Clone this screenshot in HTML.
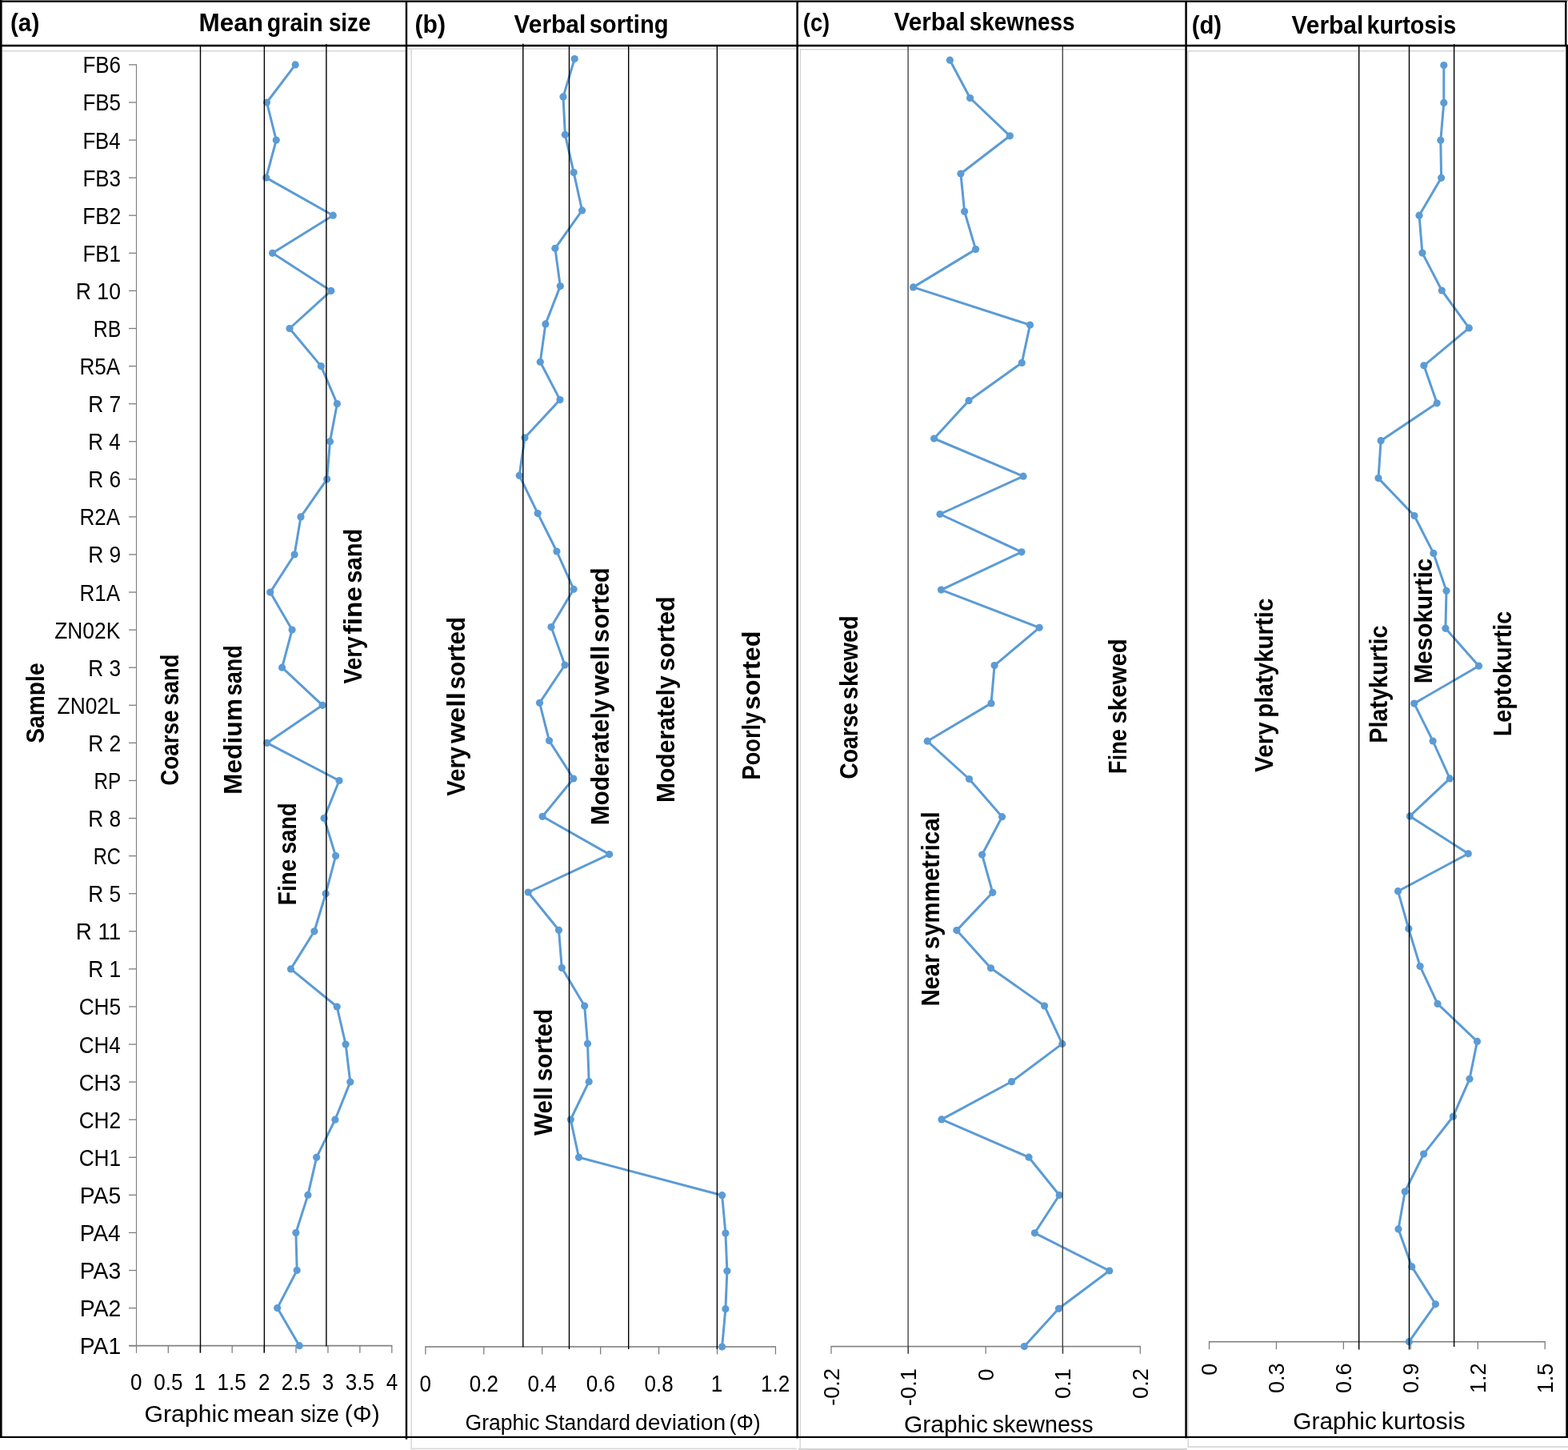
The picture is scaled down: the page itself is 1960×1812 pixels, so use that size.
<!DOCTYPE html>
<html lang="en">
<head>
<meta charset="utf-8">
<title>Grain size parameters</title>
<style>
html,body{margin:0;padding:0;background:#fff;}
body{width:1960px;height:1812px;overflow:hidden;}
svg{display:block;}
</style>
</head>
<body>
<svg width="1960" height="1812" viewBox="0 0 1960 1812">
<rect width="1960" height="1812" fill="#fff"/>
<g id="chart-frames">
<rect x="3.00" y="62.85" width="503.50" height="1.70" fill="#d9d9d9"/>
<rect x="513.40" y="60.50" width="1.60" height="1750.50" fill="#d9d9d9"/>
<rect x="509.50" y="60.25" width="485.70" height="1.50" fill="#d9d9d9"/>
<rect x="513.40" y="1809.55" width="482.60" height="1.70" fill="#d9d9d9"/>
<rect x="999.50" y="61.00" width="1.60" height="1750.00" fill="#d9d9d9"/>
<rect x="999.50" y="61.05" width="481.50" height="1.50" fill="#d9d9d9"/>
<rect x="998.00" y="1809.80" width="485.80" height="2.20" fill="#d4d4d4"/>
<rect x="1484.40" y="63.00" width="1.60" height="1745.50" fill="#d9d9d9"/>
<rect x="1484.50" y="62.85" width="471.50" height="1.70" fill="#d9d9d9"/>
<rect x="1484.40" y="1807.20" width="475.60" height="1.80" fill="#d9d9d9"/>
</g>
<g id="axes">
<rect x="169.95" y="80.20" width="1.05" height="1610.60" fill="#7a7a7a"/>
<rect x="161.00" y="80.25" width="9.40" height="1.30" fill="#7f7f7f"/>
<rect x="161.00" y="127.33" width="9.40" height="1.30" fill="#7f7f7f"/>
<rect x="161.00" y="174.41" width="9.40" height="1.30" fill="#7f7f7f"/>
<rect x="161.00" y="221.50" width="9.40" height="1.30" fill="#7f7f7f"/>
<rect x="161.00" y="268.58" width="9.40" height="1.30" fill="#7f7f7f"/>
<rect x="161.00" y="315.66" width="9.40" height="1.30" fill="#7f7f7f"/>
<rect x="161.00" y="362.74" width="9.40" height="1.30" fill="#7f7f7f"/>
<rect x="161.00" y="409.83" width="9.40" height="1.30" fill="#7f7f7f"/>
<rect x="161.00" y="456.91" width="9.40" height="1.30" fill="#7f7f7f"/>
<rect x="161.00" y="503.99" width="9.40" height="1.30" fill="#7f7f7f"/>
<rect x="161.00" y="551.07" width="9.40" height="1.30" fill="#7f7f7f"/>
<rect x="161.00" y="598.16" width="9.40" height="1.30" fill="#7f7f7f"/>
<rect x="161.00" y="645.24" width="9.40" height="1.30" fill="#7f7f7f"/>
<rect x="161.00" y="692.32" width="9.40" height="1.30" fill="#7f7f7f"/>
<rect x="161.00" y="739.40" width="9.40" height="1.30" fill="#7f7f7f"/>
<rect x="161.00" y="786.49" width="9.40" height="1.30" fill="#7f7f7f"/>
<rect x="161.00" y="833.57" width="9.40" height="1.30" fill="#7f7f7f"/>
<rect x="161.00" y="880.65" width="9.40" height="1.30" fill="#7f7f7f"/>
<rect x="161.00" y="927.73" width="9.40" height="1.30" fill="#7f7f7f"/>
<rect x="161.00" y="974.81" width="9.40" height="1.30" fill="#7f7f7f"/>
<rect x="161.00" y="1021.90" width="9.40" height="1.30" fill="#7f7f7f"/>
<rect x="161.00" y="1068.98" width="9.40" height="1.30" fill="#7f7f7f"/>
<rect x="161.00" y="1116.06" width="9.40" height="1.30" fill="#7f7f7f"/>
<rect x="161.00" y="1163.14" width="9.40" height="1.30" fill="#7f7f7f"/>
<rect x="161.00" y="1210.23" width="9.40" height="1.30" fill="#7f7f7f"/>
<rect x="161.00" y="1257.31" width="9.40" height="1.30" fill="#7f7f7f"/>
<rect x="161.00" y="1304.39" width="9.40" height="1.30" fill="#7f7f7f"/>
<rect x="161.00" y="1351.47" width="9.40" height="1.30" fill="#7f7f7f"/>
<rect x="161.00" y="1398.56" width="9.40" height="1.30" fill="#7f7f7f"/>
<rect x="161.00" y="1445.64" width="9.40" height="1.30" fill="#7f7f7f"/>
<rect x="161.00" y="1492.72" width="9.40" height="1.30" fill="#7f7f7f"/>
<rect x="161.00" y="1539.80" width="9.40" height="1.30" fill="#7f7f7f"/>
<rect x="161.00" y="1586.89" width="9.40" height="1.30" fill="#7f7f7f"/>
<rect x="161.00" y="1633.97" width="9.40" height="1.30" fill="#7f7f7f"/>
<rect x="161.00" y="1681.05" width="9.40" height="1.30" fill="#7f7f7f"/>
<rect x="161.00" y="1680.80" width="329.30" height="1.70" fill="#7f7f7f"/>
<rect x="209.67" y="1681.60" width="1.30" height="9.20" fill="#7f7f7f"/>
<rect x="249.60" y="1681.60" width="1.30" height="9.20" fill="#7f7f7f"/>
<rect x="289.53" y="1681.60" width="1.30" height="9.20" fill="#7f7f7f"/>
<rect x="329.45" y="1681.60" width="1.30" height="9.20" fill="#7f7f7f"/>
<rect x="369.38" y="1681.60" width="1.30" height="9.20" fill="#7f7f7f"/>
<rect x="409.30" y="1681.60" width="1.30" height="9.20" fill="#7f7f7f"/>
<rect x="449.23" y="1681.60" width="1.30" height="9.20" fill="#7f7f7f"/>
<rect x="489.15" y="1681.60" width="1.30" height="9.20" fill="#7f7f7f"/>
<rect x="531.30" y="1682.20" width="438.70" height="1.60" fill="#7f7f7f"/>
<rect x="531.25" y="1683.00" width="1.30" height="9.50" fill="#7f7f7f"/>
<rect x="604.17" y="1683.00" width="1.30" height="9.50" fill="#7f7f7f"/>
<rect x="677.09" y="1683.00" width="1.30" height="9.50" fill="#7f7f7f"/>
<rect x="750.01" y="1683.00" width="1.30" height="9.50" fill="#7f7f7f"/>
<rect x="822.93" y="1683.00" width="1.30" height="9.50" fill="#7f7f7f"/>
<rect x="895.85" y="1683.00" width="1.30" height="9.50" fill="#7f7f7f"/>
<rect x="968.77" y="1683.00" width="1.30" height="9.50" fill="#7f7f7f"/>
<rect x="1038.40" y="1681.80" width="387.50" height="1.60" fill="#7f7f7f"/>
<rect x="1038.35" y="1682.60" width="1.30" height="9.20" fill="#7f7f7f"/>
<rect x="1134.92" y="1682.60" width="1.30" height="9.20" fill="#7f7f7f"/>
<rect x="1231.50" y="1682.60" width="1.30" height="9.20" fill="#7f7f7f"/>
<rect x="1328.07" y="1682.60" width="1.30" height="9.20" fill="#7f7f7f"/>
<rect x="1424.65" y="1682.60" width="1.30" height="9.20" fill="#7f7f7f"/>
<rect x="1510.90" y="1675.90" width="420.90" height="1.60" fill="#7f7f7f"/>
<rect x="1510.85" y="1676.70" width="1.30" height="9.50" fill="#7f7f7f"/>
<rect x="1594.79" y="1676.70" width="1.30" height="9.50" fill="#7f7f7f"/>
<rect x="1678.73" y="1676.70" width="1.30" height="9.50" fill="#7f7f7f"/>
<rect x="1762.67" y="1676.70" width="1.30" height="9.50" fill="#7f7f7f"/>
<rect x="1846.61" y="1676.70" width="1.30" height="9.50" fill="#7f7f7f"/>
<rect x="1930.55" y="1676.70" width="1.30" height="9.50" fill="#7f7f7f"/>
</g>
<g id="series-a">
<polyline fill="none" stroke="#5B9BD5" stroke-width="3" stroke-linejoin="round" stroke-linecap="round" points="369.2,80.9 333.5,128.0 345.3,175.1 332.7,222.1 416.3,269.2 340.6,316.3 413.8,363.4 362.0,410.5 401.4,457.6 421.4,504.6 412.5,551.7 408.7,598.8 376.0,645.9 368.1,693.0 337.8,740.1 365.1,787.1 352.6,834.2 403.1,881.3 333.7,928.4 424.0,975.5 405.1,1022.5 419.6,1069.6 407.2,1116.7 392.9,1163.8 363.5,1210.9 421.2,1258.0 432.1,1305.0 437.8,1352.1 418.9,1399.2 395.7,1446.3 384.9,1493.4 369.9,1540.5 371.2,1587.5 346.7,1634.6 374.2,1681.7"/>
<circle cx="369.2" cy="80.9" r="4.6" fill="#5B9BD5"/>
<circle cx="333.5" cy="128.0" r="4.6" fill="#5B9BD5"/>
<circle cx="345.3" cy="175.1" r="4.6" fill="#5B9BD5"/>
<circle cx="332.7" cy="222.1" r="4.6" fill="#5B9BD5"/>
<circle cx="416.3" cy="269.2" r="4.6" fill="#5B9BD5"/>
<circle cx="340.6" cy="316.3" r="4.6" fill="#5B9BD5"/>
<circle cx="413.8" cy="363.4" r="4.6" fill="#5B9BD5"/>
<circle cx="362.0" cy="410.5" r="4.6" fill="#5B9BD5"/>
<circle cx="401.4" cy="457.6" r="4.6" fill="#5B9BD5"/>
<circle cx="421.4" cy="504.6" r="4.6" fill="#5B9BD5"/>
<circle cx="412.5" cy="551.7" r="4.6" fill="#5B9BD5"/>
<circle cx="408.7" cy="598.8" r="4.6" fill="#5B9BD5"/>
<circle cx="376.0" cy="645.9" r="4.6" fill="#5B9BD5"/>
<circle cx="368.1" cy="693.0" r="4.6" fill="#5B9BD5"/>
<circle cx="337.8" cy="740.1" r="4.6" fill="#5B9BD5"/>
<circle cx="365.1" cy="787.1" r="4.6" fill="#5B9BD5"/>
<circle cx="352.6" cy="834.2" r="4.6" fill="#5B9BD5"/>
<circle cx="403.1" cy="881.3" r="4.6" fill="#5B9BD5"/>
<circle cx="333.7" cy="928.4" r="4.6" fill="#5B9BD5"/>
<circle cx="424.0" cy="975.5" r="4.6" fill="#5B9BD5"/>
<circle cx="405.1" cy="1022.5" r="4.6" fill="#5B9BD5"/>
<circle cx="419.6" cy="1069.6" r="4.6" fill="#5B9BD5"/>
<circle cx="407.2" cy="1116.7" r="4.6" fill="#5B9BD5"/>
<circle cx="392.9" cy="1163.8" r="4.6" fill="#5B9BD5"/>
<circle cx="363.5" cy="1210.9" r="4.6" fill="#5B9BD5"/>
<circle cx="421.2" cy="1258.0" r="4.6" fill="#5B9BD5"/>
<circle cx="432.1" cy="1305.0" r="4.6" fill="#5B9BD5"/>
<circle cx="437.8" cy="1352.1" r="4.6" fill="#5B9BD5"/>
<circle cx="418.9" cy="1399.2" r="4.6" fill="#5B9BD5"/>
<circle cx="395.7" cy="1446.3" r="4.6" fill="#5B9BD5"/>
<circle cx="384.9" cy="1493.4" r="4.6" fill="#5B9BD5"/>
<circle cx="369.9" cy="1540.5" r="4.6" fill="#5B9BD5"/>
<circle cx="371.2" cy="1587.5" r="4.6" fill="#5B9BD5"/>
<circle cx="346.7" cy="1634.6" r="4.6" fill="#5B9BD5"/>
<circle cx="374.2" cy="1681.7" r="4.6" fill="#5B9BD5"/>
</g>
<g id="series-b">
<polyline fill="none" stroke="#5B9BD5" stroke-width="3" stroke-linejoin="round" stroke-linecap="round" points="718.2,73.6 704.0,120.9 706.4,168.3 717.2,215.6 727.6,262.9 693.9,310.3 700.3,357.6 681.9,404.9 675.3,452.3 700.0,499.6 655.9,547.0 649.2,594.3 672.2,641.6 695.9,689.0 717.1,736.3 689.0,783.6 706.1,831.0 674.5,878.3 686.5,925.6 716.8,973.0 678.1,1020.3 761.7,1067.6 660.2,1115.0 698.5,1162.3 702.3,1209.6 730.7,1257.0 734.5,1304.3 736.2,1351.7 713.3,1399.0 723.5,1446.3 902.6,1493.7 906.9,1541.0 908.9,1588.3 906.9,1635.7 902.6,1683.0"/>
<circle cx="718.2" cy="73.6" r="4.6" fill="#5B9BD5"/>
<circle cx="704.0" cy="120.9" r="4.6" fill="#5B9BD5"/>
<circle cx="706.4" cy="168.3" r="4.6" fill="#5B9BD5"/>
<circle cx="717.2" cy="215.6" r="4.6" fill="#5B9BD5"/>
<circle cx="727.6" cy="262.9" r="4.6" fill="#5B9BD5"/>
<circle cx="693.9" cy="310.3" r="4.6" fill="#5B9BD5"/>
<circle cx="700.3" cy="357.6" r="4.6" fill="#5B9BD5"/>
<circle cx="681.9" cy="404.9" r="4.6" fill="#5B9BD5"/>
<circle cx="675.3" cy="452.3" r="4.6" fill="#5B9BD5"/>
<circle cx="700.0" cy="499.6" r="4.6" fill="#5B9BD5"/>
<circle cx="655.9" cy="547.0" r="4.6" fill="#5B9BD5"/>
<circle cx="649.2" cy="594.3" r="4.6" fill="#5B9BD5"/>
<circle cx="672.2" cy="641.6" r="4.6" fill="#5B9BD5"/>
<circle cx="695.9" cy="689.0" r="4.6" fill="#5B9BD5"/>
<circle cx="717.1" cy="736.3" r="4.6" fill="#5B9BD5"/>
<circle cx="689.0" cy="783.6" r="4.6" fill="#5B9BD5"/>
<circle cx="706.1" cy="831.0" r="4.6" fill="#5B9BD5"/>
<circle cx="674.5" cy="878.3" r="4.6" fill="#5B9BD5"/>
<circle cx="686.5" cy="925.6" r="4.6" fill="#5B9BD5"/>
<circle cx="716.8" cy="973.0" r="4.6" fill="#5B9BD5"/>
<circle cx="678.1" cy="1020.3" r="4.6" fill="#5B9BD5"/>
<circle cx="761.7" cy="1067.6" r="4.6" fill="#5B9BD5"/>
<circle cx="660.2" cy="1115.0" r="4.6" fill="#5B9BD5"/>
<circle cx="698.5" cy="1162.3" r="4.6" fill="#5B9BD5"/>
<circle cx="702.3" cy="1209.6" r="4.6" fill="#5B9BD5"/>
<circle cx="730.7" cy="1257.0" r="4.6" fill="#5B9BD5"/>
<circle cx="734.5" cy="1304.3" r="4.6" fill="#5B9BD5"/>
<circle cx="736.2" cy="1351.7" r="4.6" fill="#5B9BD5"/>
<circle cx="713.3" cy="1399.0" r="4.6" fill="#5B9BD5"/>
<circle cx="723.5" cy="1446.3" r="4.6" fill="#5B9BD5"/>
<circle cx="902.6" cy="1493.7" r="4.6" fill="#5B9BD5"/>
<circle cx="906.9" cy="1541.0" r="4.6" fill="#5B9BD5"/>
<circle cx="908.9" cy="1588.3" r="4.6" fill="#5B9BD5"/>
<circle cx="906.9" cy="1635.7" r="4.6" fill="#5B9BD5"/>
<circle cx="902.6" cy="1683.0" r="4.6" fill="#5B9BD5"/>
</g>
<g id="series-c">
<polyline fill="none" stroke="#5B9BD5" stroke-width="3" stroke-linejoin="round" stroke-linecap="round" points="1187.4,75.2 1212.6,122.5 1262.4,169.8 1200.9,217.0 1205.6,264.3 1219.6,311.6 1141.6,358.9 1287.5,406.1 1277.3,453.4 1211.0,500.7 1167.6,548.0 1279.1,595.2 1175.0,642.5 1277.0,689.8 1176.5,737.1 1299.2,784.3 1243.1,831.6 1239.0,878.9 1159.2,926.2 1211.5,973.5 1252.6,1020.7 1227.6,1068.0 1240.8,1115.3 1195.9,1162.6 1238.5,1209.8 1305.6,1257.1 1327.8,1304.4 1264.5,1351.7 1177.0,1398.9 1286.0,1446.2 1324.2,1493.5 1293.4,1540.8 1386.7,1588.0 1323.5,1635.3 1280.4,1682.6"/>
<circle cx="1187.4" cy="75.2" r="4.6" fill="#5B9BD5"/>
<circle cx="1212.6" cy="122.5" r="4.6" fill="#5B9BD5"/>
<circle cx="1262.4" cy="169.8" r="4.6" fill="#5B9BD5"/>
<circle cx="1200.9" cy="217.0" r="4.6" fill="#5B9BD5"/>
<circle cx="1205.6" cy="264.3" r="4.6" fill="#5B9BD5"/>
<circle cx="1219.6" cy="311.6" r="4.6" fill="#5B9BD5"/>
<circle cx="1141.6" cy="358.9" r="4.6" fill="#5B9BD5"/>
<circle cx="1287.5" cy="406.1" r="4.6" fill="#5B9BD5"/>
<circle cx="1277.3" cy="453.4" r="4.6" fill="#5B9BD5"/>
<circle cx="1211.0" cy="500.7" r="4.6" fill="#5B9BD5"/>
<circle cx="1167.6" cy="548.0" r="4.6" fill="#5B9BD5"/>
<circle cx="1279.1" cy="595.2" r="4.6" fill="#5B9BD5"/>
<circle cx="1175.0" cy="642.5" r="4.6" fill="#5B9BD5"/>
<circle cx="1277.0" cy="689.8" r="4.6" fill="#5B9BD5"/>
<circle cx="1176.5" cy="737.1" r="4.6" fill="#5B9BD5"/>
<circle cx="1299.2" cy="784.3" r="4.6" fill="#5B9BD5"/>
<circle cx="1243.1" cy="831.6" r="4.6" fill="#5B9BD5"/>
<circle cx="1239.0" cy="878.9" r="4.6" fill="#5B9BD5"/>
<circle cx="1159.2" cy="926.2" r="4.6" fill="#5B9BD5"/>
<circle cx="1211.5" cy="973.5" r="4.6" fill="#5B9BD5"/>
<circle cx="1252.6" cy="1020.7" r="4.6" fill="#5B9BD5"/>
<circle cx="1227.6" cy="1068.0" r="4.6" fill="#5B9BD5"/>
<circle cx="1240.8" cy="1115.3" r="4.6" fill="#5B9BD5"/>
<circle cx="1195.9" cy="1162.6" r="4.6" fill="#5B9BD5"/>
<circle cx="1238.5" cy="1209.8" r="4.6" fill="#5B9BD5"/>
<circle cx="1305.6" cy="1257.1" r="4.6" fill="#5B9BD5"/>
<circle cx="1327.8" cy="1304.4" r="4.6" fill="#5B9BD5"/>
<circle cx="1264.5" cy="1351.7" r="4.6" fill="#5B9BD5"/>
<circle cx="1177.0" cy="1398.9" r="4.6" fill="#5B9BD5"/>
<circle cx="1286.0" cy="1446.2" r="4.6" fill="#5B9BD5"/>
<circle cx="1324.2" cy="1493.5" r="4.6" fill="#5B9BD5"/>
<circle cx="1293.4" cy="1540.8" r="4.6" fill="#5B9BD5"/>
<circle cx="1386.7" cy="1588.0" r="4.6" fill="#5B9BD5"/>
<circle cx="1323.5" cy="1635.3" r="4.6" fill="#5B9BD5"/>
<circle cx="1280.4" cy="1682.6" r="4.6" fill="#5B9BD5"/>
</g>
<g id="series-d">
<polyline fill="none" stroke="#5B9BD5" stroke-width="3" stroke-linejoin="round" stroke-linecap="round" points="1804.8,81.5 1804.8,128.4 1800.8,175.3 1801.6,222.3 1774.0,269.2 1777.9,316.1 1802.3,363.0 1836.3,409.9 1779.9,456.8 1796.2,503.8 1726.1,550.7 1723.0,597.6 1767.9,644.5 1791.9,691.4 1808.0,738.3 1806.9,785.3 1848.5,832.2 1767.7,879.1 1791.1,926.0 1812.3,972.9 1762.3,1019.9 1835.3,1066.8 1747.5,1113.7 1760.8,1160.6 1775.1,1207.5 1797.0,1254.4 1846.5,1301.4 1837.0,1348.3 1816.4,1395.2 1779.6,1442.1 1756.2,1489.0 1748.0,1535.9 1764.8,1582.9 1794.4,1629.8 1761.3,1676.7"/>
<circle cx="1804.8" cy="81.5" r="4.6" fill="#5B9BD5"/>
<circle cx="1804.8" cy="128.4" r="4.6" fill="#5B9BD5"/>
<circle cx="1800.8" cy="175.3" r="4.6" fill="#5B9BD5"/>
<circle cx="1801.6" cy="222.3" r="4.6" fill="#5B9BD5"/>
<circle cx="1774.0" cy="269.2" r="4.6" fill="#5B9BD5"/>
<circle cx="1777.9" cy="316.1" r="4.6" fill="#5B9BD5"/>
<circle cx="1802.3" cy="363.0" r="4.6" fill="#5B9BD5"/>
<circle cx="1836.3" cy="409.9" r="4.6" fill="#5B9BD5"/>
<circle cx="1779.9" cy="456.8" r="4.6" fill="#5B9BD5"/>
<circle cx="1796.2" cy="503.8" r="4.6" fill="#5B9BD5"/>
<circle cx="1726.1" cy="550.7" r="4.6" fill="#5B9BD5"/>
<circle cx="1723.0" cy="597.6" r="4.6" fill="#5B9BD5"/>
<circle cx="1767.9" cy="644.5" r="4.6" fill="#5B9BD5"/>
<circle cx="1791.9" cy="691.4" r="4.6" fill="#5B9BD5"/>
<circle cx="1808.0" cy="738.3" r="4.6" fill="#5B9BD5"/>
<circle cx="1806.9" cy="785.3" r="4.6" fill="#5B9BD5"/>
<circle cx="1848.5" cy="832.2" r="4.6" fill="#5B9BD5"/>
<circle cx="1767.7" cy="879.1" r="4.6" fill="#5B9BD5"/>
<circle cx="1791.1" cy="926.0" r="4.6" fill="#5B9BD5"/>
<circle cx="1812.3" cy="972.9" r="4.6" fill="#5B9BD5"/>
<circle cx="1762.3" cy="1019.9" r="4.6" fill="#5B9BD5"/>
<circle cx="1835.3" cy="1066.8" r="4.6" fill="#5B9BD5"/>
<circle cx="1747.5" cy="1113.7" r="4.6" fill="#5B9BD5"/>
<circle cx="1760.8" cy="1160.6" r="4.6" fill="#5B9BD5"/>
<circle cx="1775.1" cy="1207.5" r="4.6" fill="#5B9BD5"/>
<circle cx="1797.0" cy="1254.4" r="4.6" fill="#5B9BD5"/>
<circle cx="1846.5" cy="1301.4" r="4.6" fill="#5B9BD5"/>
<circle cx="1837.0" cy="1348.3" r="4.6" fill="#5B9BD5"/>
<circle cx="1816.4" cy="1395.2" r="4.6" fill="#5B9BD5"/>
<circle cx="1779.6" cy="1442.1" r="4.6" fill="#5B9BD5"/>
<circle cx="1756.2" cy="1489.0" r="4.6" fill="#5B9BD5"/>
<circle cx="1748.0" cy="1535.9" r="4.6" fill="#5B9BD5"/>
<circle cx="1764.8" cy="1582.9" r="4.6" fill="#5B9BD5"/>
<circle cx="1794.4" cy="1629.8" r="4.6" fill="#5B9BD5"/>
<circle cx="1761.3" cy="1676.7" r="4.6" fill="#5B9BD5"/>
</g>
<g id="class-lines">
<rect x="249.80" y="58.00" width="1.40" height="1632.50" fill="#000"/>
<rect x="329.70" y="58.00" width="1.40" height="1632.50" fill="#000"/>
<rect x="407.20" y="54.90" width="1.40" height="1627.60" fill="#000"/>
<rect x="653.10" y="54.60" width="1.40" height="1628.90" fill="#000"/>
<rect x="710.80" y="58.00" width="1.40" height="1628.00" fill="#000"/>
<rect x="785.00" y="58.00" width="1.40" height="1628.00" fill="#000"/>
<rect x="895.70" y="58.00" width="1.40" height="1628.00" fill="#000"/>
<rect x="1134.45" y="58.00" width="1.30" height="1633.50" fill="#3a3a3a"/>
<rect x="1327.65" y="58.00" width="1.30" height="1633.50" fill="#3a3a3a"/>
<rect x="1698.00" y="58.00" width="1.40" height="1628.50" fill="#000"/>
<rect x="1760.80" y="58.00" width="1.40" height="1628.50" fill="#000"/>
<rect x="1816.90" y="55.00" width="1.40" height="1628.00" fill="#000"/>
</g>
<g id="frame">
<rect x="0.00" y="0.00" width="1960.00" height="1.00" fill="#8c8c8c"/>
<rect x="0.00" y="0.90" width="1958.50" height="1.90" fill="#000"/>
<rect x="0.00" y="0.00" width="2.60" height="1797.00" fill="#000"/>
<rect x="0.00" y="55.75" width="1960.00" height="2.55" fill="#000"/>
<rect x="0.00" y="1794.80" width="1960.00" height="2.20" fill="#000"/>
<rect x="506.80" y="1.00" width="2.40" height="1797.60" fill="#000"/>
<rect x="995.40" y="1.00" width="2.50" height="1796.40" fill="#000"/>
<rect x="1481.30" y="1.00" width="2.50" height="1796.30" fill="#000"/>
<rect x="1956.00" y="1.00" width="2.50" height="56.00" fill="#000"/>
<rect x="1957.30" y="56.00" width="2.70" height="1741.00" fill="#000"/>
</g>
<g font-family='"Liberation Sans", sans-serif' fill="#000" xml:space="preserve">
<text y="38.90" font-size="30.5" font-weight="700"><tspan x="12.94" textLength="36.35" lengthAdjust="spacingAndGlyphs">(a)</tspan></text>
<text y="38.95" font-size="30.5" font-weight="700"><tspan x="248.43" textLength="89.41" lengthAdjust="spacingAndGlyphs">Mean </tspan><tspan x="333.83" textLength="77.82" lengthAdjust="spacingAndGlyphs">grain </tspan><tspan x="410.89" textLength="52.53" lengthAdjust="spacingAndGlyphs">size</tspan></text>
<text y="40.90" font-size="30.5" font-weight="700"><tspan x="518.41" textLength="38.62" lengthAdjust="spacingAndGlyphs">(b)</tspan></text>
<text y="41.00" font-size="30.5" font-weight="700"><tspan x="642.45" textLength="98.19" lengthAdjust="spacingAndGlyphs">Verbal </tspan><tspan x="736.64" textLength="98.93" lengthAdjust="spacingAndGlyphs">sorting</tspan></text>
<text y="38.90" font-size="30.5" font-weight="700"><tspan x="1003.86" textLength="33.30" lengthAdjust="spacingAndGlyphs">(c)</tspan></text>
<text y="37.60" font-size="30.5" font-weight="700"><tspan x="1117.56" textLength="97.51" lengthAdjust="spacingAndGlyphs">Verbal </tspan><tspan x="1211.79" textLength="131.85" lengthAdjust="spacingAndGlyphs">skewness</tspan></text>
<text y="42.30" font-size="30.5" font-weight="700"><tspan x="1489.66" textLength="37.43" lengthAdjust="spacingAndGlyphs">(d)</tspan></text>
<text y="42.30" font-size="30.5" font-weight="700"><tspan x="1614.45" textLength="98.19" lengthAdjust="spacingAndGlyphs">Verbal </tspan><tspan x="1708.41" textLength="111.97" lengthAdjust="spacingAndGlyphs">kurtosis</tspan></text>
<text y="1776.50" font-size="29" font-weight="400"><tspan x="180.60" textLength="114.01" lengthAdjust="spacingAndGlyphs">Graphic </tspan><tspan x="291.25" textLength="85.16" lengthAdjust="spacingAndGlyphs">mean </tspan><tspan x="375.40" textLength="56.02" lengthAdjust="spacingAndGlyphs">size </tspan><tspan x="430.89" textLength="43.87" lengthAdjust="spacingAndGlyphs">(Φ)</tspan></text>
<text y="1787.00" font-size="27" font-weight="400"><tspan x="581.57" textLength="100.23" lengthAdjust="spacingAndGlyphs">Graphic </tspan><tspan x="680.47" textLength="114.84" lengthAdjust="spacingAndGlyphs">Standard </tspan><tspan x="794.05" textLength="121.06" lengthAdjust="spacingAndGlyphs">deviation </tspan><tspan x="911.51" textLength="39.20" lengthAdjust="spacingAndGlyphs">(Φ)</tspan></text>
<text y="1790.30" font-size="29" font-weight="400"><tspan x="1130.01" textLength="113.24" lengthAdjust="spacingAndGlyphs">Graphic </tspan><tspan x="1240.66" textLength="125.81" lengthAdjust="spacingAndGlyphs">skewness</tspan></text>
<text y="1786.20" font-size="29" font-weight="400"><tspan x="1616.31" textLength="112.91" lengthAdjust="spacingAndGlyphs">Graphic </tspan><tspan x="1726.86" textLength="104.90" lengthAdjust="spacingAndGlyphs">kurtosis</tspan></text>
<clipPath id="cs"><rect x="20" y="800" width="36.0" height="150"/></clipPath>
<g clip-path="url(#cs)">
<text transform="translate(55.10 0) rotate(-90)" font-size="30.5" font-weight="700"><tspan x="-928.79" textLength="100.42" lengthAdjust="spacingAndGlyphs">Sample</tspan></text>
</g>
<text transform="translate(223.30 0) rotate(-90)" font-size="30.5" font-weight="700"><tspan x="-981.84" textLength="102.22" lengthAdjust="spacingAndGlyphs">Coarse </tspan><tspan x="-881.50" textLength="64.04" lengthAdjust="spacingAndGlyphs">sand</tspan></text>
<text transform="translate(302.30 0) rotate(-90)" font-size="30.5" font-weight="700"><tspan x="-993.08" textLength="128.80" lengthAdjust="spacingAndGlyphs">Medium </tspan><tspan x="-869.18" textLength="63.00" lengthAdjust="spacingAndGlyphs">sand</tspan></text>
<text transform="translate(370.00 0) rotate(-90)" font-size="30.5" font-weight="700"><tspan x="-1131.13" textLength="65.16" lengthAdjust="spacingAndGlyphs">Fine </tspan><tspan x="-1067.30" textLength="64.04" lengthAdjust="spacingAndGlyphs">sand</tspan></text>
<text transform="translate(451.50 0) rotate(-90)" font-size="30.5" font-weight="700"><tspan x="-854.43" textLength="66.78" lengthAdjust="spacingAndGlyphs">Very </tspan><tspan x="-792.45" textLength="68.46" lengthAdjust="spacingAndGlyphs">fine </tspan><tspan x="-728.65" textLength="67.90" lengthAdjust="spacingAndGlyphs">sand</tspan></text>
<text transform="translate(581.10 0) rotate(-90)" font-size="30.5" font-weight="700"><tspan x="-994.74" textLength="69.97" lengthAdjust="spacingAndGlyphs">Very </tspan><tspan x="-929.12" textLength="73.55" lengthAdjust="spacingAndGlyphs">well </tspan><tspan x="-861.47" textLength="90.68" lengthAdjust="spacingAndGlyphs">sorted</tspan></text>
<text transform="translate(689.90 0) rotate(-90)" font-size="30.5" font-weight="700"><tspan x="-1419.00" textLength="69.04" lengthAdjust="spacingAndGlyphs">Well </tspan><tspan x="-1351.37" textLength="90.48" lengthAdjust="spacingAndGlyphs">sorted</tspan></text>
<text transform="translate(760.50 0) rotate(-90)" font-size="30.5" font-weight="700"><tspan x="-1031.36" textLength="165.98" lengthAdjust="spacingAndGlyphs">Moderately </tspan><tspan x="-869.63" textLength="72.37" lengthAdjust="spacingAndGlyphs">well </tspan><tspan x="-802.90" textLength="93.58" lengthAdjust="spacingAndGlyphs">sorted</tspan></text>
<text transform="translate(842.70 0) rotate(-90)" font-size="30.5" font-weight="700"><tspan x="-1003.07" textLength="167.04" lengthAdjust="spacingAndGlyphs">Moderately </tspan><tspan x="-838.80" textLength="93.58" lengthAdjust="spacingAndGlyphs">sorted</tspan></text>
<text transform="translate(950.20 0) rotate(-90)" font-size="30.5" font-weight="700"><tspan x="-974.38" textLength="92.18" lengthAdjust="spacingAndGlyphs">Poorly </tspan><tspan x="-887.26" textLength="98.74" lengthAdjust="spacingAndGlyphs">sorted</tspan></text>
<text transform="translate(1072.20 0) rotate(-90)" font-size="30.5" font-weight="700"><tspan x="-973.76" textLength="103.66" lengthAdjust="spacingAndGlyphs">Coarse </tspan><tspan x="-874.25" textLength="105.12" lengthAdjust="spacingAndGlyphs">skewed</tspan></text>
<text transform="translate(1174.40 0) rotate(-90)" font-size="30.5" font-weight="700"><tspan x="-1257.52" textLength="73.15" lengthAdjust="spacingAndGlyphs">Near </tspan><tspan x="-1186.17" textLength="171.92" lengthAdjust="spacingAndGlyphs">symmetrical</tspan></text>
<text transform="translate(1407.80 0) rotate(-90)" font-size="30.5" font-weight="700"><tspan x="-966.88" textLength="63.37" lengthAdjust="spacingAndGlyphs">Fine </tspan><tspan x="-904.56" textLength="106.25" lengthAdjust="spacingAndGlyphs">skewed</tspan></text>
<text transform="translate(1591.10 0) rotate(-90)" font-size="30.5" font-weight="700"><tspan x="-964.94" textLength="70.99" lengthAdjust="spacingAndGlyphs">Very </tspan><tspan x="-896.73" textLength="149.20" lengthAdjust="spacingAndGlyphs">platykurtic</tspan></text>
<text transform="translate(1733.50 0) rotate(-90)" font-size="30.5" font-weight="700"><tspan x="-928.79" textLength="147.19" lengthAdjust="spacingAndGlyphs">Platykurtic</tspan></text>
<text transform="translate(1790.30 0) rotate(-90)" font-size="30.5" font-weight="700"><tspan x="-854.35" textLength="156.59" lengthAdjust="spacingAndGlyphs">Mesokurtic</tspan></text>
<text transform="translate(1889.40 0) rotate(-90)" font-size="30.5" font-weight="700"><tspan x="-920.28" textLength="156.46" lengthAdjust="spacingAndGlyphs">Leptokurtic</tspan></text>
<text y="91.40" font-size="29" font-weight="400"><tspan x="103.38" textLength="47.68" lengthAdjust="spacingAndGlyphs">FB6</tspan></text>
<text y="138.48" font-size="29" font-weight="400"><tspan x="103.38" textLength="47.68" lengthAdjust="spacingAndGlyphs">FB5</tspan></text>
<text y="185.56" font-size="29" font-weight="400"><tspan x="103.40" textLength="47.21" lengthAdjust="spacingAndGlyphs">FB4</tspan></text>
<text y="232.65" font-size="29" font-weight="400"><tspan x="103.38" textLength="47.68" lengthAdjust="spacingAndGlyphs">FB3</tspan></text>
<text y="279.73" font-size="29" font-weight="400"><tspan x="103.37" textLength="47.92" lengthAdjust="spacingAndGlyphs">FB2</tspan></text>
<text y="326.81" font-size="29" font-weight="400"><tspan x="103.38" textLength="47.68" lengthAdjust="spacingAndGlyphs">FB1</tspan></text>
<text y="373.89" font-size="29" font-weight="400"><tspan x="94.84" textLength="56.08" lengthAdjust="spacingAndGlyphs">R 10</tspan></text>
<text y="420.98" font-size="29" font-weight="400"><tspan x="116.66" textLength="34.66" lengthAdjust="spacingAndGlyphs">RB</tspan></text>
<text y="468.06" font-size="29" font-weight="400"><tspan x="99.48" textLength="50.67" lengthAdjust="spacingAndGlyphs">R5A</tspan></text>
<text y="515.14" font-size="29" font-weight="400"><tspan x="110.15" textLength="41.11" lengthAdjust="spacingAndGlyphs">R 7</tspan></text>
<text y="562.22" font-size="29" font-weight="400"><tspan x="110.19" textLength="40.38" lengthAdjust="spacingAndGlyphs">R 4</tspan></text>
<text y="609.31" font-size="29" font-weight="400"><tspan x="110.16" textLength="40.86" lengthAdjust="spacingAndGlyphs">R 6</tspan></text>
<text y="656.39" font-size="29" font-weight="400"><tspan x="99.48" textLength="50.67" lengthAdjust="spacingAndGlyphs">R2A</tspan></text>
<text y="703.47" font-size="29" font-weight="400"><tspan x="110.15" textLength="41.11" lengthAdjust="spacingAndGlyphs">R 9</tspan></text>
<text y="750.55" font-size="29" font-weight="400"><tspan x="99.48" textLength="50.67" lengthAdjust="spacingAndGlyphs">R1A</tspan></text>
<text y="797.64" font-size="29" font-weight="400"><tspan x="68.22" textLength="82.02" lengthAdjust="spacingAndGlyphs">ZN02K</tspan></text>
<text y="844.72" font-size="29" font-weight="400"><tspan x="110.16" textLength="40.86" lengthAdjust="spacingAndGlyphs">R 3</tspan></text>
<text y="891.80" font-size="29" font-weight="400"><tspan x="71.52" textLength="79.20" lengthAdjust="spacingAndGlyphs">ZN02L</tspan></text>
<text y="938.88" font-size="29" font-weight="400"><tspan x="110.15" textLength="41.11" lengthAdjust="spacingAndGlyphs">R 2</tspan></text>
<text y="985.96" font-size="29" font-weight="400"><tspan x="117.51" textLength="33.78" lengthAdjust="spacingAndGlyphs">RP</tspan></text>
<text y="1033.05" font-size="29" font-weight="400"><tspan x="110.16" textLength="40.86" lengthAdjust="spacingAndGlyphs">R 8</tspan></text>
<text y="1080.13" font-size="29" font-weight="400"><tspan x="116.76" textLength="34.16" lengthAdjust="spacingAndGlyphs">RC</tspan></text>
<text y="1127.21" font-size="29" font-weight="400"><tspan x="110.16" textLength="40.86" lengthAdjust="spacingAndGlyphs">R 5</tspan></text>
<text y="1174.29" font-size="29" font-weight="400"><tspan x="94.75" textLength="56.55" lengthAdjust="spacingAndGlyphs">R 11</tspan></text>
<text y="1221.38" font-size="29" font-weight="400"><tspan x="110.15" textLength="41.11" lengthAdjust="spacingAndGlyphs">R 1</tspan></text>
<text y="1268.46" font-size="29" font-weight="400"><tspan x="98.64" textLength="52.50" lengthAdjust="spacingAndGlyphs">CH5</tspan></text>
<text y="1315.54" font-size="29" font-weight="400"><tspan x="98.65" textLength="52.03" lengthAdjust="spacingAndGlyphs">CH4</tspan></text>
<text y="1362.62" font-size="29" font-weight="400"><tspan x="98.64" textLength="52.50" lengthAdjust="spacingAndGlyphs">CH3</tspan></text>
<text y="1409.71" font-size="29" font-weight="400"><tspan x="98.64" textLength="52.50" lengthAdjust="spacingAndGlyphs">CH2</tspan></text>
<text y="1456.79" font-size="29" font-weight="400"><tspan x="98.64" textLength="52.50" lengthAdjust="spacingAndGlyphs">CH1</tspan></text>
<text y="1503.87" font-size="29" font-weight="400"><tspan x="99.81" textLength="51.33" lengthAdjust="spacingAndGlyphs">PA5</tspan></text>
<text y="1550.95" font-size="29" font-weight="400"><tspan x="99.83" textLength="50.81" lengthAdjust="spacingAndGlyphs">PA4</tspan></text>
<text y="1598.04" font-size="29" font-weight="400"><tspan x="99.81" textLength="51.33" lengthAdjust="spacingAndGlyphs">PA3</tspan></text>
<text y="1645.12" font-size="29" font-weight="400"><tspan x="99.80" textLength="51.59" lengthAdjust="spacingAndGlyphs">PA2</tspan></text>
<text y="1692.20" font-size="29" font-weight="400"><tspan x="99.81" textLength="51.33" lengthAdjust="spacingAndGlyphs">PA1</tspan></text>
<text y="1737.00" font-size="28.6" font-weight="400"><tspan x="163.11" textLength="14.49" lengthAdjust="spacingAndGlyphs">0</tspan></text>
<text y="1737.00" font-size="28.6" font-weight="400"><tspan x="192.22" textLength="36.22" lengthAdjust="spacingAndGlyphs">0.5</tspan></text>
<text y="1737.00" font-size="28.6" font-weight="400"><tspan x="242.62" textLength="14.49" lengthAdjust="spacingAndGlyphs">1</tspan></text>
<text y="1737.00" font-size="28.6" font-weight="400"><tspan x="271.61" textLength="36.22" lengthAdjust="spacingAndGlyphs">1.5</tspan></text>
<text y="1737.00" font-size="28.6" font-weight="400"><tspan x="322.93" textLength="14.49" lengthAdjust="spacingAndGlyphs">2</tspan></text>
<text y="1737.00" font-size="28.6" font-weight="400"><tspan x="351.80" textLength="36.22" lengthAdjust="spacingAndGlyphs">2.5</tspan></text>
<text y="1737.00" font-size="28.6" font-weight="400"><tspan x="402.78" textLength="14.49" lengthAdjust="spacingAndGlyphs">3</tspan></text>
<text y="1737.00" font-size="28.6" font-weight="400"><tspan x="431.77" textLength="36.22" lengthAdjust="spacingAndGlyphs">3.5</tspan></text>
<text y="1737.00" font-size="28.6" font-weight="400"><tspan x="482.63" textLength="14.49" lengthAdjust="spacingAndGlyphs">4</tspan></text>
<text y="1739.30" font-size="28.6" font-weight="400"><tspan x="524.61" textLength="14.49" lengthAdjust="spacingAndGlyphs">0</tspan></text>
<text y="1739.30" font-size="28.6" font-weight="400"><tspan x="586.83" textLength="36.22" lengthAdjust="spacingAndGlyphs">0.2</tspan></text>
<text y="1739.30" font-size="28.6" font-weight="400"><tspan x="659.52" textLength="36.22" lengthAdjust="spacingAndGlyphs">0.4</tspan></text>
<text y="1739.30" font-size="28.6" font-weight="400"><tspan x="732.67" textLength="36.22" lengthAdjust="spacingAndGlyphs">0.6</tspan></text>
<text y="1739.30" font-size="28.6" font-weight="400"><tspan x="805.47" textLength="36.22" lengthAdjust="spacingAndGlyphs">0.8</tspan></text>
<text y="1739.30" font-size="28.6" font-weight="400"><tspan x="888.87" textLength="14.49" lengthAdjust="spacingAndGlyphs">1</tspan></text>
<text y="1739.30" font-size="28.6" font-weight="400"><tspan x="950.97" textLength="36.22" lengthAdjust="spacingAndGlyphs">1.2</tspan></text>
<text transform="translate(1048.70 0) rotate(-90)" font-size="28.4" font-weight="400"><tspan x="-1756.72" textLength="46.69" lengthAdjust="spacingAndGlyphs">-0.2</tspan></text>
<text transform="translate(1145.28 0) rotate(-90)" font-size="28.4" font-weight="400"><tspan x="-1756.95" textLength="46.69" lengthAdjust="spacingAndGlyphs">-0.1</tspan></text>
<text transform="translate(1241.85 0) rotate(-90)" font-size="28.4" font-weight="400"><tspan x="-1725.47" textLength="15.07" lengthAdjust="spacingAndGlyphs">0</tspan></text>
<text transform="translate(1338.42 0) rotate(-90)" font-size="28.4" font-weight="400"><tspan x="-1747.89" textLength="37.66" lengthAdjust="spacingAndGlyphs">0.1</tspan></text>
<text transform="translate(1435.00 0) rotate(-90)" font-size="28.4" font-weight="400"><tspan x="-1747.89" textLength="37.66" lengthAdjust="spacingAndGlyphs">0.2</tspan></text>
<text transform="translate(1521.40 0) rotate(-90)" font-size="28.4" font-weight="400"><tspan x="-1718.67" textLength="15.07" lengthAdjust="spacingAndGlyphs">0</tspan></text>
<text transform="translate(1605.34 0) rotate(-90)" font-size="28.4" font-weight="400"><tspan x="-1741.09" textLength="37.66" lengthAdjust="spacingAndGlyphs">0.3</tspan></text>
<text transform="translate(1689.28 0) rotate(-90)" font-size="28.4" font-weight="400"><tspan x="-1741.09" textLength="37.66" lengthAdjust="spacingAndGlyphs">0.6</tspan></text>
<text transform="translate(1773.22 0) rotate(-90)" font-size="28.4" font-weight="400"><tspan x="-1741.09" textLength="37.66" lengthAdjust="spacingAndGlyphs">0.9</tspan></text>
<text transform="translate(1857.16 0) rotate(-90)" font-size="28.4" font-weight="400"><tspan x="-1741.09" textLength="37.66" lengthAdjust="spacingAndGlyphs">1.2</tspan></text>
<text transform="translate(1941.10 0) rotate(-90)" font-size="28.4" font-weight="400"><tspan x="-1741.33" textLength="37.66" lengthAdjust="spacingAndGlyphs">1.5</tspan></text>
</g>
</svg>
</body>
</html>
